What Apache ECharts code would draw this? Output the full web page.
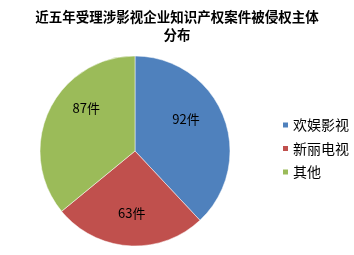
<!DOCTYPE html>
<html>
<head>
<meta charset="utf-8">
<script src="https://cdn.jsdelivr.net/npm/echarts@6/dist/echarts.min.js"></script>
<style>
html, body { margin: 0; padding: 0; background: #fff; }
#main { width: 354px; height: 255px; }
</style>
</head>
<body>
<div id="main"></div>
<script>
// 数据
const names = ['欢娱影视', '新丽电视', '其他'];
const values = [92, 63, 87];
const colors = ['#4F81BD', '#C0504D', '#9BBB59'];
// 标签微调（相对默认位置）
const labelOffsets = [[4, -13], [0, 12], [-3, -21]];

let chart = echarts.init(document.getElementById('main'));
let option = {
    animation: false,
    title: {
        text: '近五年受理涉影视企业知识产权案件被侵权主体\n分布',
        left: 'center',
        top: 3,
        textStyle: {
            fontFamily: 'Noto Sans CJK SC',
            fontSize: 13.5,
            fontWeight: 'bold',
            color: '#000',
            lineHeight: 18
        }
    },
    legend: {
        orient: 'vertical',
        left: 281,
        top: 118,
        padding: 0,
        itemWidth: 7,
        itemHeight: 7,
        itemGap: 9.5,
        icon: 'rect',
        textStyle: {
            fontFamily: 'Noto Sans CJK SC',
            fontSize: 14,
            color: '#000',
            padding: [0, 0, 0, -1]
        },
        data: names
    },
    series: [
        {
            type: 'pie',
            center: [135, 151],
            radius: [0, 95],
            startAngle: 90,
            clockwise: true,
            label: {
                position: 'inner',
                formatter: '{c}件',
                fontFamily: 'Noto Sans CJK SC',
                fontSize: 13,
                color: '#000'
            },
            labelLine: { show: false },
            itemStyle: {
                borderColor: '#fff',
                borderWidth: 0.5
            },
            data: names.map((n, i) => ({
                name: n,
                value: values[i],
                itemStyle: { color: colors[i] },
                label: { offset: labelOffsets[i] }
            }))
        }
    ]
};
chart.setOption(option);
</script>
</body>
</html>
